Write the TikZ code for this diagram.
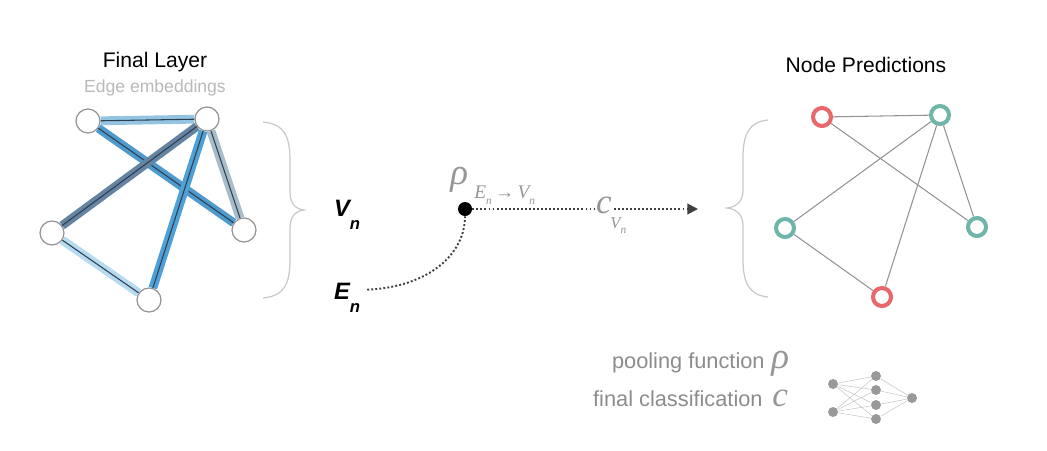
\documentclass[tikz,border=0pt]{standalone}
\usepackage{fontspec}
\setmainfont{Liberation Sans}
\newfontfamily\symserif{Liberation Serif}
\usetikzlibrary{arrows.meta,positioning}

\definecolor{embA}{HTML}{93C4E2}
\definecolor{embB}{HTML}{4E9ACD}
\definecolor{embC}{HTML}{6584A2}
\definecolor{embD}{HTML}{A6BCCB}
\definecolor{embE}{HTML}{4FA0D6}
\definecolor{embF}{HTML}{B6DAEF}
\definecolor{corecol}{HTML}{2E3D4F}
\definecolor{predred}{HTML}{E9666B}
\definecolor{predteal}{HTML}{6FB5AA}
\definecolor{bracecol}{HTML}{C8C8C8}
\definecolor{mathgray}{HTML}{969696}

\newcommand\lowsub[1]{\raisebox{-1.1ex}{\fontsize{9.5}{10}\selectfont #1}}
\newcommand\tinysub[1]{\raisebox{-0.7ex}{\fontsize{6.5}{7}\selectfont #1}}

\begin{document}
\begin{tikzpicture}[x=0.02cm,y=-0.02cm,
	gnode/.style={circle, draw=gray!85, fill=white, line width=0.7pt, minimum size=0.48cm, inner sep=0pt},
	emb/.style={draw=#1, line width=5pt},
	core/.style={draw=corecol, line width=0.6pt},
	pred/.style={circle, draw=#1, line width=2.3pt, fill=white, minimum size=0.36cm, inner sep=0pt},
	predge/.style={draw=gray!85, line width=0.6pt},
	title/.style={font=\fontsize{12}{14}\selectfont, text=black},
	flow/.style={draw=black!75, line width=1.1pt, dash pattern=on 1.1pt off 1.2pt},
	greek/.style={text=mathgray, inner sep=0pt},
	bigsym/.style={greek, font=\symserif\itshape\fontsize{#1}{#1}\selectfont},
	note/.style={font=\fontsize{12.4}{14}\selectfont, text=gray!90, inner sep=0pt},
	nn/.style={circle, fill=gray!80, minimum size=0.2cm, inner sep=0pt},
	brace/.style={draw=bracecol, line width=0.7pt}]
	\useasboundingbox (0,0) rectangle (1047,450);

	% left graph, edge embeddings
	\node[gnode] (A) at (88,121) {};
	\node[gnode] (B) at (207,119) {};
	\node[gnode] (C) at (244,230) {};
	\node[gnode] (D) at (52,233) {};
	\node[gnode] (E) at (149,300) {};
	\foreach \s/\t/\col in {A/B/embA, A/C/embB, B/D/embC, B/C/embD, B/E/embE, D/E/embF}{
		\draw[emb=\col] (\s) -- (\t);
		\draw[core] (\s) -- (\t);
	}
	\node[title] (fl) at (155,62) {Final Layer};
	\node[font=\fontsize{10}{12}\selectfont, text=gray!55] (ee) at (155,88) {Edge embeddings};

	% braces
	\draw[brace] (263,122) .. controls (284,124) and (290,136) .. (290,160)
		-- (290,192) .. controls (290,203) and (295,209) .. (304,210)
		.. controls (295,211) and (290,217) .. (290,228)
		-- (290,260) .. controls (290,284) and (284,296) .. (263,298);
	\draw[brace] (768,120) .. controls (749,122) and (743,134) .. (743,158)
		-- (743,190) .. controls (743,201) and (737,207) .. (727,208)
		.. controls (737,209) and (743,215) .. (743,226)
		-- (743,259) .. controls (743,283) and (749,295) .. (768,297);

	% pooling and classifier
	\node[font=\fontsize{13.5}{15}\selectfont\bfseries\itshape, anchor=base west, inner sep=1pt] (Vn) at (332,216) {V\lowsub{n}};
	\node[font=\fontsize{13.5}{15}\selectfont\bfseries\itshape, anchor=base west, inner sep=1pt] (En) at (332,299) {E\lowsub{n}};
	\node[circle, fill=black, minimum size=0.28cm, inner sep=0pt] (pool) at (465,209) {};
	\node[bigsym=21, anchor=base west] (rho) at (450,184) {ρ};
	\node[bigsym=11, anchor=base west] (rhos) at (474,198) {E\tinysub{n}\,{\upshape →}\,V\tinysub{n}};
	\node[bigsym=20, anchor=base west, inner sep=1pt] (c) at (594,213) {c};
	\node[bigsym=9.5, anchor=base west] (cs) at (610,228) {V\tinysub{n}};
	\coordinate (tip) at (698,209);
	\draw[flow] (pool) -- (pool -| c.west);
	\draw[flow, -{Triangle[length=6pt, width=6pt]}] (c.east |- pool) -- (tip);
	\draw[flow] ([shift={(5,-8)}]En.east) .. controls ++(62,-3) and ++(0,45) .. (pool);

	% right graph, predictions
	\node[pred=predred] (a) at (822,117) {};
	\node[pred=predteal] (b) at (940,115) {};
	\node[pred=predteal] (c2) at (977,227) {};
	\node[pred=predteal] (d) at (785,228) {};
	\node[pred=predred] (e) at (882,297) {};
	\foreach \s/\t in {a/b, a/c2, b/d, b/c2, b/e, d/e}
		\draw[predge] (\s) -- (\t);
	\node[title] (np) at (866,65) {Node Predictions};

	% legend
	\node[note, anchor=base east] (pf) at (765,368) {pooling function};
	\node[bigsym=21, anchor=base west] (prho) at (771,368) {ρ};
	\node[note, anchor=base east] (fc) at (763,406) {final classification};
	\node[bigsym=20, anchor=base west] (pc) at (772,406) {c};
	\node[nn] (i1) at (833,384) {};
	\node[nn] (i2) at (833,412) {};
	\foreach \k/\y in {1/376, 2/390, 3/405, 4/419}
		\node[nn] (h\k) at (876,\y) {};
	\node[nn] (o1) at (912,398) {};
	\foreach \i in {1,2}
		\foreach \k in {1,...,4}
			\draw[gray!45, line width=0.3pt] (i\i) -- (h\k);
	\foreach \k in {1,...,4}
		\draw[gray!45, line width=0.3pt] (h\k) -- (o1);
\end{tikzpicture}
\end{document}
